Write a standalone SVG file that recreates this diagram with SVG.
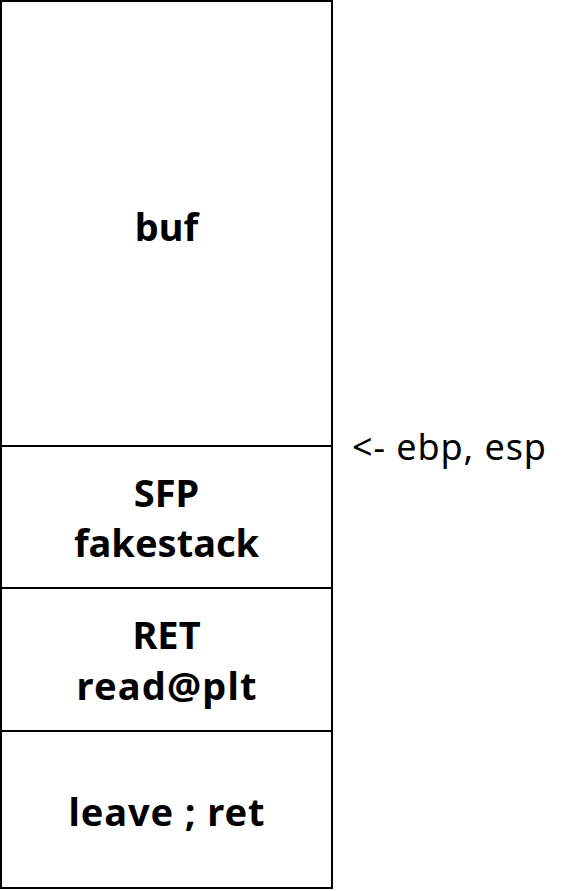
<svg xmlns="http://www.w3.org/2000/svg" width="570" height="891" viewBox="0 0 570 891">
<style>
.cell{fill:#fff;stroke:#000;stroke-width:2}
.lbl{font-family:"Noto Sans","Open Sans","Liberation Sans",sans-serif;font-weight:bold;font-size:38px;text-anchor:middle;fill:#000}
.note{font-family:"Noto Sans","Open Sans","Liberation Sans",sans-serif;font-size:36px;fill:#000}
</style>
<rect width="570" height="891" fill="#fff"/>
<g id="buf"><rect class="cell" x="1" y="1" width="331" height="445"/><text class="lbl" x="166.5" y="241">buf</text></g>
<g id="sfp"><rect class="cell" x="1" y="446" width="331" height="142"/><text class="lbl" x="166.5" y="507">SFP</text><text class="lbl" x="166.5" y="557">fakestack</text></g>
<g id="ret"><rect class="cell" x="1" y="588" width="331" height="143"/><text class="lbl" x="166.5" y="649">RET</text><text class="lbl" x="166.5" y="700" textLength="180" lengthAdjust="spacing">read@plt</text></g>
<g id="leave"><rect class="cell" x="1" y="731" width="331" height="157"/><text class="lbl" x="166.5" y="826" textLength="196" lengthAdjust="spacing">leave ; ret</text></g>
<g id="note"><text class="note" x="352" y="460" textLength="194" lengthAdjust="spacing">&lt;- ebp, esp</text></g>
<g id="connectors"/>
</svg>
